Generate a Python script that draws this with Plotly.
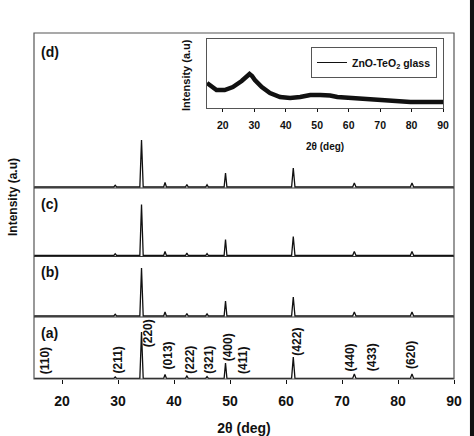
import plotly.graph_objects as go

# ---------------- data ----------------
two_theta = [15.0, 16.95, 17.2, 17.45, 29.25, 29.5, 29.75, 33.9, 34.2, 34.5,
             38.15, 38.4, 38.65, 42.05, 42.3, 42.55, 45.65, 45.9, 46.15,
             48.95, 49.2, 49.45, 52.15, 52.4, 52.65, 61.0, 61.3, 61.6,
             71.9, 72.2, 72.5, 74.65, 74.9, 75.15, 82.2, 82.5, 82.8, 90.0]

int_a = [0.6, 0.6, 1.2, 0.6, 0.6, 2.0, 0.6, 0.6, 47, 0.6, 0.6, 4.5, 0.6, 0.6, 3.0, 0.6,
         0.6, 2.5, 0.6, 0.6, 16, 0.6, 0.6, 1.2, 0.6, 0.6, 22, 0.6, 0.6, 5, 0.6,
         0.6, 1.2, 0.6, 0.6, 5, 0.6, 0.6]
int_b = [1.0, 1.0, 1.5, 1.0, 1.0, 2.8, 1.0, 1.0, 49, 1.0, 1.0, 5.0, 1.0, 1.0, 3.5, 1.0,
         1.0, 3.0, 1.0, 1.0, 16, 1.0, 1.0, 1.5, 1.0, 1.0, 20, 1.0, 1.0, 5, 1.0,
         1.0, 1.5, 1.0, 1.0, 5, 1.0, 1.0]
int_c = [1.0, 1.0, 1.5, 1.0, 1.0, 2.8, 1.0, 1.0, 52, 1.0, 1.0, 5.0, 1.0, 1.0, 3.5, 1.0,
         1.0, 3.0, 1.0, 1.0, 17, 1.0, 1.0, 1.5, 1.0, 1.0, 20, 1.0, 1.0, 5, 1.0,
         1.0, 1.5, 1.0, 1.0, 5, 1.0, 1.0]
int_d = [1.0, 1.0, 1.5, 1.0, 1.0, 2.8, 1.0, 1.0, 48, 1.0, 1.0, 5.5, 1.0, 1.0, 3.5, 1.0,
         1.0, 3.2, 1.0, 1.0, 15, 1.0, 1.0, 1.5, 1.0, 1.0, 20, 1.0, 1.0, 5, 1.0,
         1.0, 1.5, 1.0, 1.0, 5, 1.0, 1.0]

hkl_labels = ["(110)", "(211)", "(220)", "(013)", "(222)", "(321)",
              "(400)", "(411)", "(422)", "(440)", "(433)", "(620)"]
hkl_x = [17.1, 30.0, 35.4, 39.0, 42.8, 46.2, 49.7, 52.4, 61.9, 71.5, 75.4, 82.3]
hkl_y = [4, 4, 31, 9, 4, 4, 17, 4, 22, 7, 7, 9]

glass_2theta = [15, 16.5, 18, 20.6, 23.2, 26, 27.5, 28.5, 29.3, 30.2, 32.4, 35, 38.2,
                41.4, 44.6, 47.8, 51, 54.1, 56.4, 60.5, 66.8, 73.2, 79.6, 86, 90]
glass_int = [25, 21, 18, 18, 21, 27, 31, 34, 32, 28, 21, 15, 11,
             10, 11, 13, 13, 12.5, 11, 10, 9, 7, 6, 6, 6]

x_ticks = [20, 30, 40, 50, 60, 70, 80, 90]
panel_names = ["(a)", "(b)", "(c)", "(d)"]

# ---------------- figure ----------------
FONT = "Liberation Sans, Arial, sans-serif"
INK = "#111111"
BOX = "#555555"

fig = go.Figure()
series = [int_a, int_b, int_c, int_d]
yrefs = ["y", "y2", "y3", "y4"]
for name, ys, yr in zip(panel_names, series, yrefs):
    fig.add_trace(go.Scatter(x=two_theta, y=ys, mode="lines", xaxis="x", yaxis=yr,
                             line=dict(color=INK, width=1.3), showlegend=False,
                             name=name))

fig.add_trace(go.Scatter(x=glass_2theta, y=glass_int, mode="lines", xaxis="x5",
                         yaxis="y5", line=dict(color=INK, width=4.5),
                         showlegend=False))
fig.add_trace(go.Scatter(x=glass_2theta, y=glass_int, mode="lines", xaxis="x5",
                         yaxis="y5", line=dict(color=INK, width=1),
                         name="ZnO-TeO<sub>2</sub> glass", showlegend=True))

# domains (paper) for panels
b_ab, b_bc, b_cd = 0.1792, 0.354, 0.552
hidden_y = dict(showline=False, showticklabels=False, ticks="", showgrid=False,
                zeroline=False, automargin=False)

fig.update_layout(
    width=474, height=436,
    margin=dict(l=34, r=20, t=33, b=57, autoexpand=False),
    paper_bgcolor="white", plot_bgcolor="white",
    font=dict(family=FONT, color=INK, weight="bold"),
    xaxis=dict(range=[15, 90], tickvals=x_ticks, ticks="outside", ticklen=4,
               tickcolor=INK, showline=False, showgrid=False, zeroline=False,
               tickfont=dict(size=14, family=FONT, weight="bold"),
               ticklabelstandoff=5, anchor="y", automargin=False,
               title=dict(text="2θ (deg)", font=dict(size=14, family=FONT, weight="bold"),
                          standoff=16)),
    yaxis=dict(domain=[0, b_ab], range=[0, 62], **hidden_y),
    yaxis2=dict(domain=[b_ab, b_bc], range=[0, 60.5], **hidden_y),
    yaxis3=dict(domain=[b_bc, b_cd], range=[0, 68.5], **hidden_y),
    yaxis4=dict(domain=[b_cd, 1], range=[0, 155], **hidden_y),
    xaxis5=dict(domain=[0.412, 0.974], range=[15, 90], anchor="y5",
                tickvals=x_ticks, ticks="outside", ticklen=3, tickcolor=INK,
                showline=True, mirror=True, linecolor=BOX, linewidth=1,
                showgrid=False, zeroline=False, ticklabelstandoff=4, automargin=False,
                tickfont=dict(size=10.5, family=FONT, weight="bold"),
                title=dict(text="2θ (deg)", font=dict(size=10, family=FONT, weight="bold"),
                           standoff=13)),
    yaxis5=dict(domain=[0.783, 0.983], range=[0, 69], anchor="x5",
                showline=True, mirror=True, linecolor=BOX, linewidth=1, automargin=False,
                showticklabels=False, ticks="", showgrid=False, zeroline=False),
    legend=dict(x=0.9595, y=0.9595, xanchor="right", yanchor="top",
                bordercolor=BOX, borderwidth=1, bgcolor="white", itemwidth=30,
                font=dict(size=10.5, family=FONT, weight="bold"),
                tracegroupgap=0),
)

shapes = [
    dict(type="rect", xref="paper", yref="paper", x0=0, x1=1, y0=0, y1=1,
         line=dict(color=BOX, width=1.2)),
]
for yb in (b_ab, b_bc, b_cd):
    shapes.append(dict(type="line", xref="paper", yref="paper", x0=0, x1=1,
                       y0=yb, y1=yb, line=dict(color="#333333", width=1.2)))
# dark scanning strip at right edge
shapes.append(dict(type="rect", xref="paper", yref="paper", x0=1.038, x1=1.06,
                   y0=-0.2, y1=1.2, line=dict(width=0), fillcolor="#111111"))
fig.update_layout(shapes=shapes)

ann = []
for lab, xv, yv in zip(hkl_labels, hkl_x, hkl_y):
    ann.append(dict(x=xv, y=yv, xref="x", yref="y", text=lab, textangle=-90,
                    showarrow=False, xanchor="center", yanchor="bottom",
                    font=dict(size=12, family=FONT, color=INK, weight="bold"),
                    borderpad=0))

panel_label_y = [333, 272, 204, 52]
for name, py in zip(panel_names, panel_label_y):
    ann.append(dict(x=(39 - 34) / 420, y=(379 - py) / 346, xref="paper", yref="paper",
                    text=name, showarrow=False, xanchor="left", yanchor="middle",
                    font=dict(size=14, family=FONT, color=INK, weight="bold")))

ann.append(dict(x=(13 - 34) / 420, y=(379 - 197) / 346, xref="paper", yref="paper",
                text="Intensity (a.u)", textangle=-90, showarrow=False,
                xanchor="center", yanchor="middle",
                font=dict(size=12, family=FONT, color=INK, weight="bold")))
ann.append(dict(x=(186 - 34) / 420, y=(379 - 75) / 346, xref="paper", yref="paper",
                text="Intensity (a.u)", textangle=-90, showarrow=False,
                xanchor="center", yanchor="middle",
                font=dict(size=11, family=FONT, color=INK, weight="bold")))
fig.update_layout(annotations=ann)

fig.write_html("out.html")
